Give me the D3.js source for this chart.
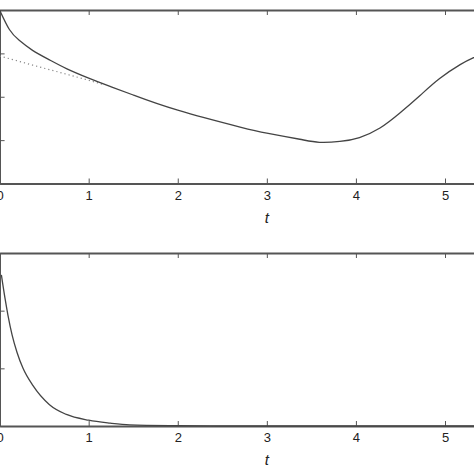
<!DOCTYPE html>
<html>
<head>
<meta charset="utf-8">
<script src="https://cdn.jsdelivr.net/npm/d3@7"></script>
<style>
  body { margin: 0; background: #fff; }
  svg { display: block; overflow: hidden; }
  .tick text { font-family: "Liberation Sans", Arial, sans-serif; font-size: 13px; fill: #222; }
  .domain { stroke: #555; stroke-width: 1.8; }
  .tick line { stroke: #555; stroke-width: 1; }
</style>
</head>
<body>
<div class="canvas"></div>
<script>
// x ticks shared by both panels
const tTicks = [0, 1, 2, 3, 4, 5];

// top panel: solid curve and dotted asymptote
const tTop = [0, 0.11, 0.22, 0.37, 0.56, 0.75, 1.0, 1.24, 1.5, 2.0, 2.7, 3.0, 3.37, 3.59, 3.82, 4.04, 4.27, 4.49, 4.72, 4.94, 5.17, 5.31, 5.4];
const vTop = [4.0, 3.55, 3.3, 3.07, 2.85, 2.65, 2.43, 2.24, 2.04, 1.69, 1.3, 1.16, 1.02, 0.95, 0.97, 1.06, 1.28, 1.62, 2.03, 2.42, 2.74, 2.89, 2.96];
const tDot = [0, 0.37, 0.75, 1.0, 1.15];
const vDot = [2.94, 2.73, 2.52, 2.38, 2.29];
const topTicks = [0, 1, 2, 3, 4];

// bottom panel
const tBot = [0.02, 0.06, 0.094, 0.14, 0.195, 0.263, 0.375, 0.56, 0.75, 1.0, 1.24, 1.46, 2.0, 2.5, 3, 4, 5, 5.4];
const vBot = [2.62, 2.22, 1.92, 1.58, 1.28, 1.0, 0.7, 0.37, 0.2, 0.1, 0.05, 0.02, 0.005, 0, 0, 0, 0, 0];
const botTicks = [0, 1, 2, 3];

const width = 474, height = 474;
const svg = d3.select(".canvas").append("svg")
  .attr("width", width)
  .attr("height", height);

const x = d3.scaleLinear().domain([0, 6]).range([-0.4, -0.4 + 6 * 89.08]);

function panel(top, bottom, yTicks, series) {
  const y = d3.scaleLinear().domain([yTicks[0], yTicks[yTicks.length - 1]]).range([bottom, top]);
  const g = svg.append("g");

  g.append("g")
    .attr("transform", `translate(0, ${bottom})`)
    .call(d3.axisBottom(x).tickValues(tTicks).tickSizeInner(-5).tickSizeOuter(0).tickPadding(7).tickFormat(d3.format("d")));
  g.append("g")
    .attr("transform", `translate(0, ${top})`)
    .call(d3.axisTop(x).tickValues(tTicks).tickSizeInner(-5).tickSizeOuter(0).tickFormat(""));
  g.append("g")
    .attr("transform", `translate(${x(0)}, 0)`)
    .call(d3.axisLeft(y).tickValues(yTicks).tickSizeInner(-5).tickSizeOuter(0).tickFormat(""));

  series.forEach(s => {
    const line = d3.line()
      .x(d => x(d[0]))
      .y(d => y(d[1]))
      .curve(s.curve);
    g.append("path")
      .attr("d", line(d3.zip(s.t, s.v)))
      .attr("fill", "none")
      .attr("stroke", s.color)
      .attr("stroke-width", s.width)
      .attr("stroke-dasharray", s.dash);
  });

  g.append("text")
    .attr("x", x(3))
    .attr("y", bottom + 39)
    .attr("text-anchor", "middle")
    .style("font-family", "\"Liberation Sans\", Arial, sans-serif")
    .style("font-style", "italic")
    .style("font-size", "15px")
    .style("fill", "#222")
    .text("t");
}

panel(10, 183.5, topTicks, [
  { t: tDot, v: vDot, color: "#888", width: 1.2, dash: "1.2,3", curve: d3.curveLinear },
  { t: tTop, v: vTop, color: "#444", width: 1.3, dash: null, curve: d3.curveNatural }
]);
panel(253, 426, botTicks, [
  { t: tBot, v: vBot, color: "#444", width: 1.3, dash: null, curve: d3.curveMonotoneX }
]);
</script>
</body>
</html>
